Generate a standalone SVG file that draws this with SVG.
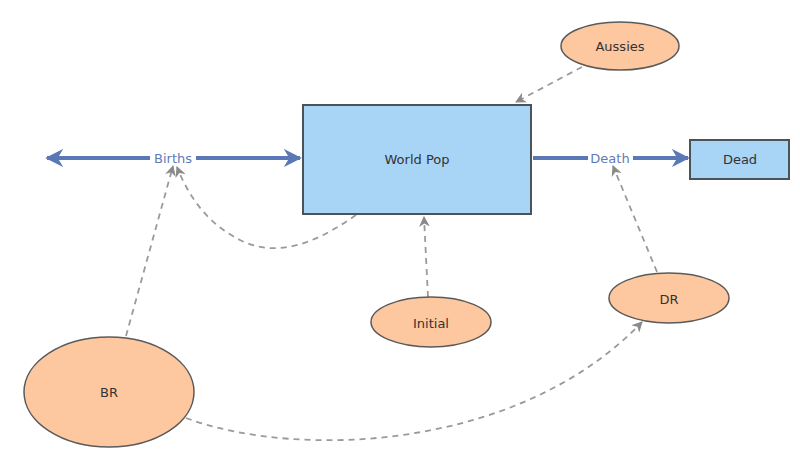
<svg xmlns="http://www.w3.org/2000/svg" width="800" height="466" viewBox="0 0 800 466">
<style>
.stock{fill:#a8d4f6;stroke:#4a5358;stroke-width:2}
.aux{fill:#fdc7a0;stroke:#5a5a5a;stroke-width:1.5}
.t{font-family:"Comic Sans MS","DejaVu Sans",sans-serif;font-size:13px;fill:#333;text-anchor:middle}
.fl{font-family:"Comic Sans MS","DejaVu Sans",sans-serif;font-size:13px;fill:#5f7bb8;text-anchor:middle}
.flow{stroke:#5b78b6;stroke-width:4;fill:none}
.link{stroke:#9a9a9a;stroke-width:1.8;fill:none;stroke-dasharray:6,5}
</style>
<defs>
<marker id="fa" viewBox="0 0 10 10" refX="9" refY="5" markerWidth="4.5" markerHeight="4.5" orient="auto-start-reverse" markerUnits="strokeWidth"><path d="M0,0 L10,5 L0,10 L3,5 z" fill="#5b78b6"/></marker>
<marker id="la" viewBox="0 0 10 10" refX="9" refY="5" markerWidth="6" markerHeight="6" orient="auto" markerUnits="strokeWidth"><path d="M0,0 L10,5 L0,10 L3,5 z" fill="#8a8a8a"/></marker>
</defs>
<rect width="800" height="466" fill="#fff"/>
<g id="connectors">
<line class="flow" x1="47" y1="158" x2="150" y2="158" marker-start="url(#fa)"/>
<line class="flow" x1="196" y1="158" x2="300" y2="158" marker-end="url(#fa)"/>
<line class="flow" x1="533" y1="158" x2="588" y2="158"/>
<line class="flow" x1="633" y1="158" x2="688" y2="158" marker-end="url(#fa)"/>
<path class="link" d="M126,336 L173,166" marker-end="url(#la)"/>
<path class="link" d="M356,215 C320,240 280,260 240,240 C210,225 190,200 177,167" marker-end="url(#la)"/>
<path class="link" d="M428,297 L424,217" marker-end="url(#la)"/>
<path class="link" d="M582,67 L516,102" marker-end="url(#la)"/>
<path class="link" d="M657,272 L613,166" marker-end="url(#la)"/>
<path class="link" d="M186,418 C300,460 520,450 642,322" marker-end="url(#la)"/>
</g>
<g id="births"><text class="fl" x="173" y="163">Births</text></g>
<g id="death"><text class="fl" x="610" y="163">Death</text></g>
<g id="worldpop"><rect class="stock" x="303" y="105" width="228" height="109"/><text class="t" x="417" y="164">World Pop</text></g>
<g id="dead"><rect class="stock" x="690" y="140" width="99" height="39"/><text class="t" x="740" y="164">Dead</text></g>
<g id="aussies"><ellipse class="aux" cx="620" cy="46" rx="59" ry="24"/><text class="t" x="620" y="51">Aussies</text></g>
<g id="initial"><ellipse class="aux" cx="431" cy="322" rx="60" ry="25"/><text class="t" x="431" y="328">Initial</text></g>
<g id="dr"><ellipse class="aux" cx="669" cy="298" rx="60" ry="25"/><text class="t" x="669" y="304">DR</text></g>
<g id="br"><ellipse class="aux" cx="109" cy="392" rx="85" ry="55"/><text class="t" x="109" y="397">BR</text></g>
</svg>
